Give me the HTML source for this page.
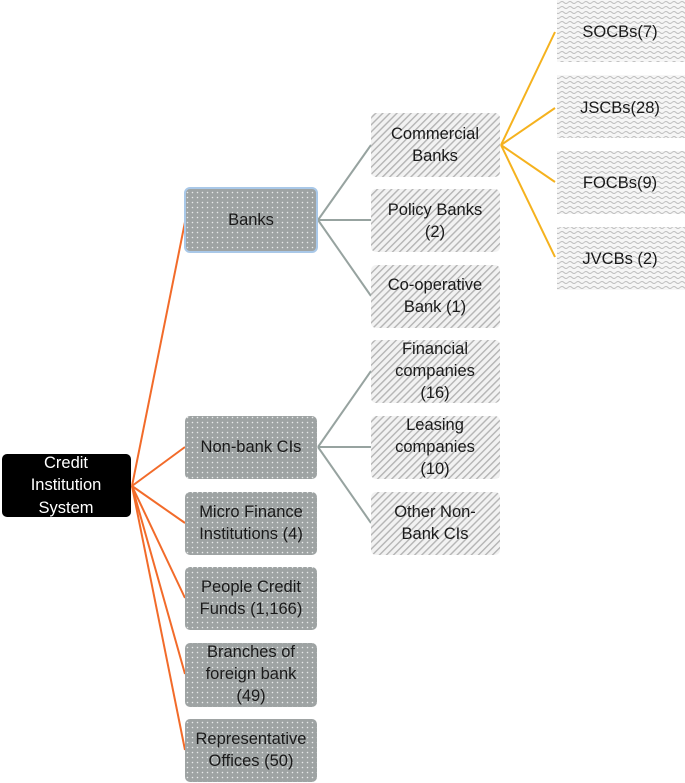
<!DOCTYPE html>
<html><head><meta charset="utf-8"><style>
html,body{margin:0;padding:0;background:#fff;}
svg{display:block;}
text{font-family:"Liberation Sans",sans-serif;font-size:16.5px;fill:#1a1a1a;text-anchor:middle;dominant-baseline:central;}
</style></head><body>
<svg width="685" height="783" viewBox="0 0 685 783" xmlns="http://www.w3.org/2000/svg">
<defs>
<pattern id="dots" width="5" height="5" patternUnits="userSpaceOnUse">
<rect width="5" height="5" fill="#9ea3a3"/><circle cx="2.5" cy="2.5" r="0.8" fill="#e8eaea"/>
</pattern>
<pattern id="hatch" width="5" height="5" patternUnits="userSpaceOnUse" patternTransform="rotate(45)">
<rect width="5" height="5" fill="#f2f2f2"/><rect width="1.4" height="5" fill="#b4b4b4"/>
</pattern>
<pattern id="wave" width="8" height="5" patternUnits="userSpaceOnUse">
<rect width="8" height="5" fill="#f6f6f6"/><path d="M0 2.5 Q2 0.5 4 2.5 T8 2.5" stroke="#bdbdbd" stroke-width="0.9" fill="none"/>
</pattern>
</defs>
<g stroke="#f26b2a" stroke-width="2" fill="none">
<line x1="132" y1="486" x2="185" y2="222"/>
<line x1="132" y1="486" x2="185" y2="447"/>
<line x1="132" y1="486" x2="185" y2="523"/>
<line x1="132" y1="486" x2="185" y2="598"/>
<line x1="132" y1="486" x2="185" y2="674"/>
<line x1="132" y1="486" x2="185" y2="750"/>
</g>
<g stroke="#97a3a0" stroke-width="2" fill="none">
<line x1="318" y1="220" x2="371" y2="145"/>
<line x1="318" y1="220" x2="371" y2="220"/>
<line x1="318" y1="220" x2="371" y2="296"/>
<line x1="318" y1="447" x2="371" y2="371"/>
<line x1="318" y1="447" x2="371" y2="447"/>
<line x1="318" y1="447" x2="371" y2="523"/>
</g>
<g stroke="#f5b21e" stroke-width="2" fill="none">
<line x1="501" y1="145" x2="555" y2="32"/>
<line x1="501" y1="145" x2="555" y2="108"/>
<line x1="501" y1="145" x2="555" y2="182"/>
<line x1="501" y1="145" x2="555" y2="257"/>
</g>
<rect x="2" y="454" width="129" height="63" rx="5" fill="#000"/>
<text x="66" y="463" style="fill:#fff" dy="0">Credit</text>
<text x="66" y="485" style="fill:#fff">Institution</text>
<text x="66" y="508" style="fill:#fff">System</text>

<rect x="185" y="188" width="132" height="64" rx="5" fill="url(#dots)" stroke="#a9c8e8" stroke-width="2"/>
<text x="251" y="220">Banks</text>
<rect x="185" y="416" width="132" height="63" rx="5" fill="url(#dots)"/>
<text x="251" y="447">Non-bank CIs</text>
<rect x="185" y="492" width="132" height="63" rx="5" fill="url(#dots)"/>
<text x="251" y="512">Micro Finance</text><text x="251" y="534">Institutions (4)</text>
<rect x="185" y="567" width="132" height="63" rx="5" fill="url(#dots)"/>
<text x="251" y="587">People Credit</text><text x="251" y="609">Funds (1,166)</text>
<rect x="185" y="643" width="132" height="64" rx="5" fill="url(#dots)"/>
<text x="251" y="652">Branches of</text><text x="251" y="674">foreign bank</text><text x="251" y="696">(49)</text>
<rect x="185" y="719" width="132" height="63" rx="5" fill="url(#dots)"/>
<text x="251" y="739">Representative</text><text x="251" y="761">Offices (50)</text>

<rect x="371" y="113" width="129" height="64" rx="5" fill="url(#hatch)"/>
<text x="435" y="134">Commercial</text><text x="435" y="156">Banks</text>
<rect x="371" y="189" width="129" height="63" rx="5" fill="url(#hatch)"/>
<text x="435" y="210">Policy Banks</text><text x="435" y="232">(2)</text>
<rect x="371" y="265" width="129" height="63" rx="5" fill="url(#hatch)"/>
<text x="435" y="285">Co-operative</text><text x="435" y="307">Bank (1)</text>
<rect x="371" y="340" width="129" height="63" rx="5" fill="url(#hatch)"/>
<text x="435" y="349">Financial</text><text x="435" y="371">companies</text><text x="435" y="393">(16)</text>
<rect x="371" y="416" width="129" height="63" rx="5" fill="url(#hatch)"/>
<text x="435" y="425">Leasing</text><text x="435" y="447">companies</text><text x="435" y="469">(10)</text>
<rect x="371" y="492" width="129" height="63" rx="5" fill="url(#hatch)"/>
<text x="435" y="512">Other Non-</text><text x="435" y="534">Bank CIs</text>

<rect x="557" y="0" width="128" height="62" fill="url(#wave)"/>
<text x="620" y="32">SOCBs(7)</text>
<rect x="557" y="75" width="128" height="63" fill="url(#wave)"/>
<text x="620" y="108">JSCBs(28)</text>
<rect x="557" y="151" width="128" height="63" fill="url(#wave)"/>
<text x="620" y="183">FOCBs(9)</text>
<rect x="557" y="227" width="128" height="63" fill="url(#wave)"/>
<text x="620" y="259">JVCBs (2)</text>
</svg>
</body></html>
